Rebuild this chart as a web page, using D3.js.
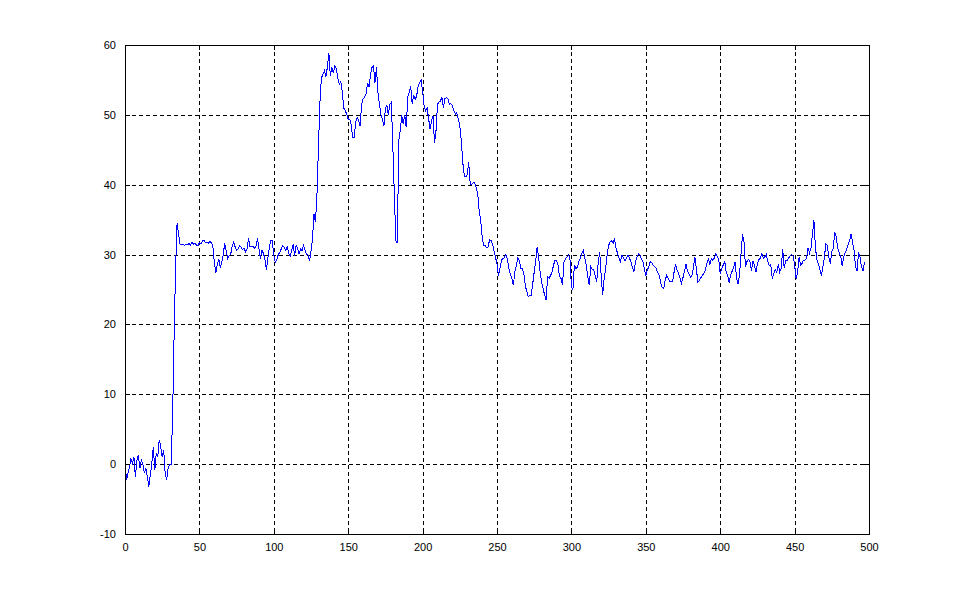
<!DOCTYPE html>
<html>
<head>
<meta charset="utf-8">
<script src="https://cdn.jsdelivr.net/npm/d3@7"></script>
<style>
  html, body { margin: 0; padding: 0; background: #ffffff; }
  svg { display: block; }
  text { font-family: "Liberation Sans", Arial, sans-serif; font-size: 11px; fill: #000; }
</style>
</head>
<body>
<svg id="chart" width="960" height="600"></svg>
<script>
// ---- data ----
const xTicks = [0, 50, 100, 150, 200, 250, 300, 350, 400, 450, 500];
const yTicks = [-10, 0, 10, 20, 30, 40, 50, 60];

const signal = [
  0.5, -2.3, -1.3, -0.4, 0.8, 0.1, 1.0, -1.8, 0.6, 1.3,
  -0.6, 0.6, 0.0, -1.3, -0.6, -1.8, -3.2, -1.6, 0.1, 2.5,
  -0.9, 1.5, 1.0, 3.5, 2.5, 1.0, 2.0, -1.3, -2.3, -0.5,
  -0.1, 0.0, 7.0, 18.5, 28.0, 34.5, 33.0, 31.5, 31.4, 31.5,
  31.3, 31.5, 31.4, 31.6, 31.3, 31.8, 31.5, 31.6, 31.4, 31.2,
  31.7, 31.5, 31.9, 32.1, 31.7, 31.8, 31.6, 31.9, 31.7, 31.3,
  29.0, 27.3, 28.5, 29.4, 28.2, 28.8, 30.0, 31.6, 30.6, 29.4,
  29.8, 30.0, 31.2, 31.8, 31.1, 30.6, 30.8, 31.3, 31.1, 30.7,
  30.9, 30.4, 30.8, 32.3, 31.1, 31.2, 31.2, 30.9, 31.2, 32.3,
  30.9, 29.4, 30.6, 30.2, 29.4, 27.8, 29.5, 31.0, 32.0, 32.0,
  29.9, 28.9, 29.2, 30.0, 30.3, 30.8, 31.3, 31.0, 30.6, 31.1,
  30.2, 29.7, 30.6, 31.5, 29.8, 31.4, 30.8, 30.1, 30.8, 30.6,
  31.3, 30.6, 30.1, 29.9, 29.1, 30.5, 32.2, 35.8, 34.6, 38.5,
  45.3, 51.8, 55.3, 55.8, 56.3, 55.5, 56.8, 58.9, 55.5, 56.8,
  56.0, 57.0, 56.6, 55.3, 54.4, 54.8, 53.4, 51.0, 50.6, 50.1,
  49.4, 49.4, 48.6, 46.8, 46.8, 48.9, 49.6, 49.2, 48.4, 51.5,
  52.3, 52.5, 53.0, 54.6, 54.0, 55.8, 56.8, 57.0, 54.6, 56.8,
  53.2, 51.5, 50.0, 49.4, 48.4, 51.0, 51.3, 50.0, 51.5, 51.8,
  45.6, 38.7, 32.0, 31.6, 46.3, 47.8, 49.9, 48.7, 50.0, 48.2,
  52.5, 53.2, 54.1, 51.5, 52.8, 52.2, 52.7, 54.1, 54.6, 55.0,
  53.4, 51.3, 50.6, 51.0, 49.5, 48.0, 49.1, 49.9, 46.0, 47.7,
  51.5, 51.8, 52.0, 52.5, 51.0, 52.3, 52.5, 52.3, 51.5, 51.6,
  51.3, 50.6, 50.1, 50.3, 49.3, 48.5, 46.3, 43.2, 41.3, 41.1,
  41.5, 43.2, 40.1, 40.1, 40.3, 40.3, 39.6, 38.8, 36.3, 34.9,
  32.7, 31.3, 31.3, 31.0, 31.1, 32.1, 32.0, 31.5, 30.5, 29.6,
  28.7, 27.0, 28.0, 29.2, 29.4, 29.6, 30.0, 29.4, 28.0, 27.2,
  26.6, 25.6, 27.5, 28.5, 29.5, 29.2, 28.0, 28.0, 27.3, 25.6,
  24.7, 24.0, 24.1, 24.2, 25.8, 27.5, 29.0, 31.1, 29.5, 27.5,
  26.0, 25.1, 24.2, 23.5, 26.8, 26.6, 27.0, 27.5, 28.5, 29.2,
  29.2, 28.5, 26.9, 26.6, 25.6, 28.9, 29.4, 29.6, 29.9, 29.5,
  25.4, 24.9, 28.5, 28.0, 28.2, 29.0, 29.4, 30.2, 30.6, 29.5,
  28.5, 26.8, 25.6, 28.3, 27.9, 27.8, 27.0, 26.1, 28.8, 30.4,
  27.0, 24.2, 26.5, 28.0, 29.9, 31.3, 31.8, 32.0, 31.6, 32.3,
  30.9, 30.2, 29.5, 29.0, 29.9, 29.6, 29.1, 29.5, 29.9, 29.5,
  29.0, 28.2, 27.5, 28.9, 29.6, 30.1, 30.0, 29.4, 29.0, 28.0,
  27.0, 27.8, 28.2, 29.0, 28.8, 28.5, 28.3, 28.0, 27.4, 27.0,
  26.0, 25.3, 25.1, 26.3, 27.0, 26.6, 26.2, 26.1, 26.1, 27.5,
  28.7, 27.8, 27.3, 26.6, 25.9, 26.7, 27.6, 28.7, 27.7, 27.2,
  26.8, 27.0, 28.1, 29.7, 27.9, 26.1, 26.3, 26.7, 27.0, 27.3,
  27.8, 28.7, 29.4, 28.6, 29.4, 29.2, 29.5, 30.1, 29.7, 29.3,
  27.3, 28.0, 28.5, 29.1, 27.5, 27.0, 26.0, 27.1, 27.6, 28.2,
  28.9, 26.6, 25.8, 27.2, 30.1, 32.9, 31.8, 28.2, 29.0, 29.3,
  29.0, 27.7, 29.1, 28.5, 27.5, 28.6, 29.3, 29.5, 30.2, 29.5,
  29.7, 30.0, 29.0, 28.4, 28.6, 26.5, 27.3, 27.8, 27.4, 28.6,
  27.5, 28.0, 30.8, 28.1, 29.2, 29.1, 29.5, 29.8, 30.0, 29.8,
  28.6, 26.5, 27.4, 29.6, 28.5, 28.7, 29.2, 29.2, 29.4, 31.0,
  30.2, 30.9, 33.0, 34.9, 31.0, 29.2, 28.7, 27.8, 27.0, 28.2,
  29.6, 31.5, 31.3, 29.6, 28.7, 30.5, 30.9, 33.2, 32.5, 30.9,
  30.2, 29.7, 28.4, 29.6, 30.3, 30.7, 31.5, 32.0, 33.0, 31.7,
  30.6, 28.2, 27.7, 30.3, 29.6, 28.2, 27.7, 28.9
];

// ---- layout ----
const plotLeft = 125, plotRight = 869, plotTop = 45, plotBottom = 534;
const svg = d3.select("#chart");

const x = d3.scaleLinear().domain([0, 500]).range([plotLeft, plotRight]);
const y = d3.scaleLinear().domain([-10, 60]).range([plotBottom, plotTop]);
const fmt = d => String(d); // plain hyphen-minus like MATLAB

// grid
const grid = svg.append("g").attr("shape-rendering", "crispEdges");
grid.selectAll("line.gx").data(xTicks.filter(t => t > 0 && t < 500)).join("line")
  .attr("class", "gx")
  .attr("x1", d => Math.round(x(d)) + 0.5).attr("x2", d => Math.round(x(d)) + 0.5)
  .attr("y1", plotTop).attr("y2", plotBottom)
  .attr("stroke", "#000").attr("stroke-width", 1).attr("stroke-dasharray", "4,3");
grid.selectAll("line.gy").data(yTicks.filter(t => t > -10 && t < 60)).join("line")
  .attr("class", "gy")
  .attr("y1", d => Math.round(y(d)) + 0.5).attr("y2", d => Math.round(y(d)) + 0.5)
  .attr("x1", plotLeft).attr("x2", plotRight)
  .attr("stroke", "#000").attr("stroke-width", 1).attr("stroke-dasharray", "4,3");

// data line
const line = d3.line().x((d, i) => x(i)).y(d => y(d));
svg.append("path").datum(signal)
  .attr("d", line)
  .attr("fill", "none")
  .attr("stroke", "#0000ff")
  .attr("stroke-width", 1)
  .attr("shape-rendering", "crispEdges");

// axes (MATLAB style: ticks inward on all sides)
const tickLen = 5;
const xAxisB = d3.axisBottom(x).tickValues(xTicks).tickSize(-tickLen).tickPadding(tickLen + 4).tickFormat(fmt);
const xAxisT = d3.axisTop(x).tickValues(xTicks).tickSize(-tickLen).tickFormat("");
const yAxisL = d3.axisLeft(y).tickValues(yTicks).tickSize(-tickLen).tickPadding(tickLen + 4).tickFormat(fmt);
const yAxisR = d3.axisRight(y).tickValues(yTicks).tickSize(-tickLen).tickFormat("");

function style(g) {
  g.attr("shape-rendering", "crispEdges");
  g.select(".domain").remove();
  g.selectAll(".tick line").attr("stroke", "#000");
  g.selectAll("text").attr("font-family", "'Liberation Sans', Arial, sans-serif").attr("font-size", 11).attr("fill", "#000");
}
svg.append("g").attr("transform", `translate(0,${plotBottom})`).call(xAxisB).call(style);
svg.append("g").attr("transform", `translate(0,${plotTop})`).call(xAxisT).call(style);
svg.append("g").attr("transform", `translate(${plotLeft},0)`).call(yAxisL).call(style);
svg.append("g").attr("transform", `translate(${plotRight},0)`).call(yAxisR).call(style);

// box
svg.append("rect")
  .attr("x", plotLeft + 0.5).attr("y", plotTop + 0.5)
  .attr("width", plotRight - plotLeft).attr("height", plotBottom - plotTop)
  .attr("fill", "none").attr("stroke", "#000").attr("stroke-width", 1)
  .attr("shape-rendering", "crispEdges");
</script>
</body>
</html>
